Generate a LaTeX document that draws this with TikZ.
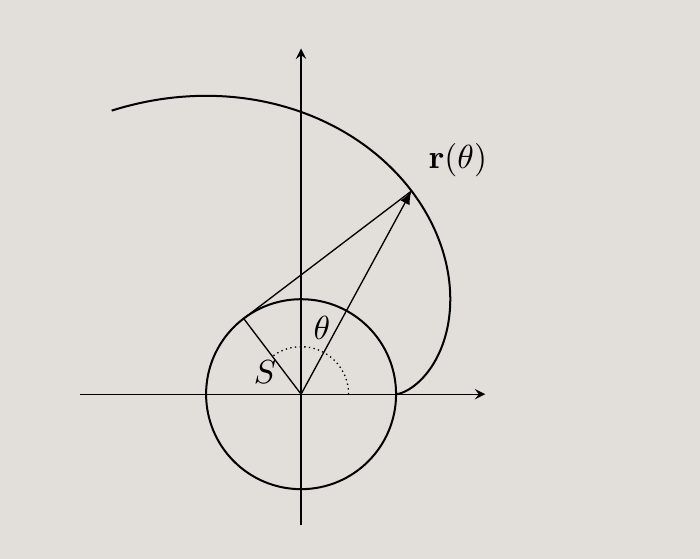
\documentclass[tikz,border=0pt]{standalone}
\usepackage{tikz}

\begin{document}
\begin{tikzpicture}[every node/.style={inner sep=1pt}]
        \useasboundingbox[fill={rgb,255:red,226;green,223;blue,219}] (-3.17,-1.73) rectangle (4.2,4.15);
        \draw[thin,-stealth] (-2.33,0) -- (1.94,0);
        \draw[thin,-stealth] (0,-1.38) -- (0,3.64);
        \coordinate (O) at (0,0);
        \coordinate (T) at (127.2:1);
        \coordinate (P) at (1.162,2.139);
        \draw[semithick] (O) circle (1);
        \draw[semithick,domain=0:3.45,samples=120,smooth,variable=\t]
            plot ({cos(\t r)+\t*sin(\t r)},{sin(\t r)-\t*cos(\t r)});
        \draw[densely dotted] (0.5,0) arc [start angle=0,end angle=127.2,radius=0.5];
        \draw (O) -- (T);
        \draw (T) -- (P);
        \draw[-latex] (O) -- (P);
        \node (theta) at (0.22,0.70) {$\theta$};
        \node (S) at (-0.38,0.23) {$S$};
        \node (r) at (1.65,2.46) {$\mathbf{r}(\theta)$};
    \end{tikzpicture}
\end{document}
